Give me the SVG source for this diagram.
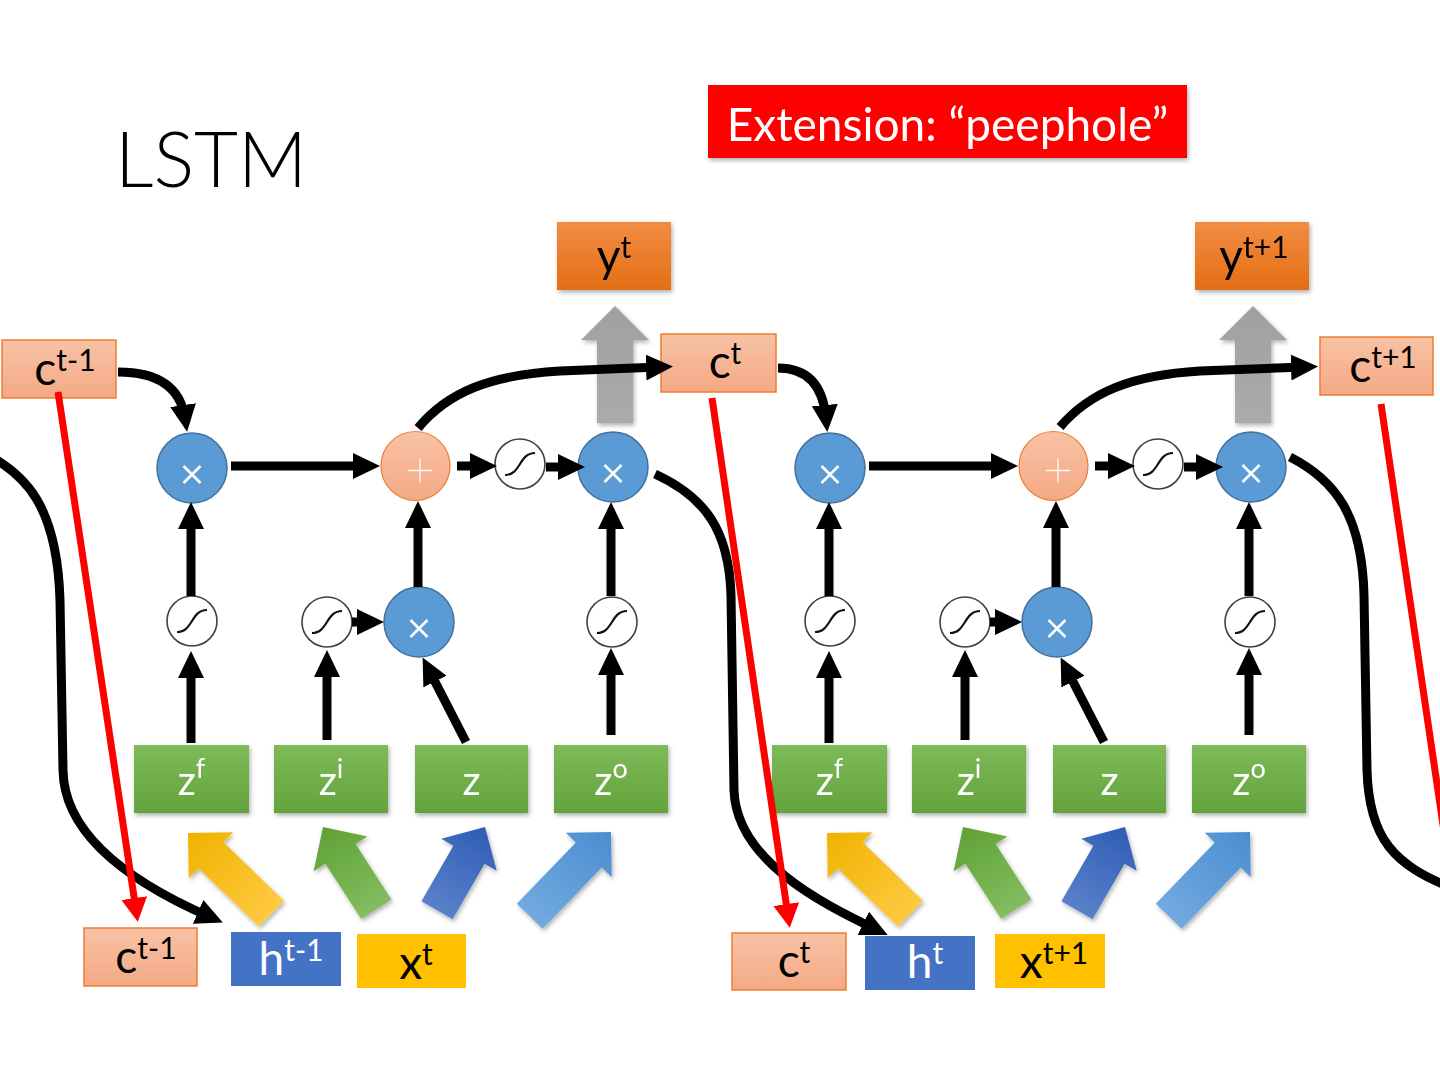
<svg xmlns="http://www.w3.org/2000/svg" width="1440" height="1080" viewBox="0 0 1440 1080">
<defs>
<style>
.t{font-family:Lato,"Open Sans","Liberation Sans",sans-serif}
.bc{fill:url(#gSalmon);stroke:#ED7D31;stroke-width:1.5}
.by{fill:url(#gOrange)}
.bz{fill:url(#gGreen)}
.lb{font-size:46px;fill:#000;text-anchor:middle}
.lw{font-size:46px;fill:#fff;text-anchor:middle}
.lz{font-size:40px;fill:#fff;text-anchor:middle}
.sp{font-size:30px}
.spz{font-size:27px}
.mul{fill:#5B9BD5;stroke:#41719C;stroke-width:1.5}
.sym{stroke:#fff;stroke-width:2.6;fill:none}
.pl{fill:url(#gSalmon);stroke:#ED7D31;stroke-width:1.2}
.psym{stroke:#fff;stroke-width:1.4;fill:none;opacity:.9}
.sig{fill:#fff;stroke:#404040;stroke-width:1.6}
.sc{fill:none;stroke:#111;stroke-width:2.2}
.con{fill:none;stroke:#000;stroke-width:9;marker-end:url(#ah)}
.red{fill:none;stroke:#FF0000;stroke-width:7;marker-end:url(#ahr)}
.redn{fill:none;stroke:#FF0000;stroke-width:7}
</style>
<linearGradient id="gSalmon" x1="0" y1="0" x2="0" y2="1"><stop offset="0" stop-color="#F8C2A5"/><stop offset="1" stop-color="#F4A985"/></linearGradient>
<linearGradient id="gOrange" x1="0" y1="0" x2="0" y2="1"><stop offset="0" stop-color="#F18D42"/><stop offset="1" stop-color="#E46E15"/></linearGradient>
<linearGradient id="gGreen" x1="0" y1="0" x2="0" y2="1"><stop offset="0" stop-color="#7DBA59"/><stop offset="1" stop-color="#64A33C"/></linearGradient>
<linearGradient id="gGray" x1="0" y1="0" x2="0" y2="1"><stop offset="0" stop-color="#A0A0A0"/><stop offset="1" stop-color="#ABABAB"/></linearGradient>
<linearGradient id="gY" x1="0" y1="0" x2="0" y2="1"><stop offset="0" stop-color="#EFB300"/><stop offset="1" stop-color="#FFC940"/></linearGradient>
<linearGradient id="gG" x1="0" y1="0" x2="0" y2="1"><stop offset="0" stop-color="#5FA235"/><stop offset="1" stop-color="#82BD60"/></linearGradient>
<linearGradient id="gB" x1="0" y1="0" x2="0" y2="1"><stop offset="0" stop-color="#2F5DB6"/><stop offset="1" stop-color="#5A80CA"/></linearGradient>
<linearGradient id="gLB" x1="0" y1="0" x2="0" y2="1"><stop offset="0" stop-color="#4A8ED0"/><stop offset="1" stop-color="#72A9DF"/></linearGradient>
<filter id="sh" x="-20%" y="-20%" width="140%" height="150%"><feDropShadow dx="1.5" dy="2.5" stdDeviation="2" flood-color="#000" flood-opacity="0.3"/></filter>
<marker id="ah" viewBox="0 0 27 26" markerWidth="27" markerHeight="26" refX="13" refY="13" orient="auto" markerUnits="userSpaceOnUse"><path d="M0,0 L27,13 L0,26 z" fill="#000"/></marker>
<marker id="ahr" viewBox="0 0 24 26" markerWidth="24" markerHeight="26" refX="12" refY="13" orient="auto" markerUnits="userSpaceOnUse"><path d="M0,0 L24,13 L0,26 z" fill="#FF0000"/></marker>
<g id="mulshape"><circle r="35" class="mul"/><path class="sym" d="M-8.5,-2 L8.5,15 M8.5,-2 L-8.5,15"/></g>
<g id="sgm"><circle r="25" class="sig"/><path class="sc" d="M-15,11 C1,11 -1,-11 15,-11"/></g>
<polygon id="grayup" points="0,0 34,34 18,34 18,117 -18,117 -18,34 -34,34" fill="url(#gGray)"/>
</defs>
<rect width="1440" height="1080" fill="#fff"/>

<text class="t" x="115" y="187" font-size="76" font-weight="300" fill="#000">LSTM</text>

<g id="extension-label" filter="url(#sh)">
<rect x="708" y="85" width="479" height="73" fill="#FF0000"/>
<text class="t" x="947.5" y="141" font-size="46" fill="#fff" text-anchor="middle">Extension: “peephole”</text>
</g>

<!-- Cell 1 -->
<g id="cell1">
<g id="zf1" filter="url(#sh)"><rect class="bz" x="134" y="745" width="115" height="68"/><text class="t lz" x="191.5" y="795">z<tspan class="spz" dy="-17">f</tspan></text></g>
<g id="zi1" filter="url(#sh)"><rect class="bz" x="274" y="745" width="114" height="68"/><text class="t lz" x="331" y="795">z<tspan class="spz" dy="-17">i</tspan></text></g>
<g id="z1" filter="url(#sh)"><rect class="bz" x="415" y="745" width="113" height="68"/><text class="t lz" x="471.5" y="795">z</text></g>
<g id="zo1" filter="url(#sh)"><rect class="bz" x="554" y="745" width="114" height="68"/><text class="t lz" x="611" y="795">z<tspan class="spz" dy="-17">o</tspan></text></g>
<g id="y1" filter="url(#sh)"><rect class="by" x="557" y="222" width="114" height="68"/><text class="t lb" x="614" y="272">y<tspan class="sp" dy="-14">t</tspan></text></g>
<g id="out1" filter="url(#sh)"><use href="#grayup" x="615" y="306"/></g>
<g id="in-arrows1" filter="url(#sh)">
<polygon fill="url(#gY)" points="0,0 32,32 18,32 18,116 -18,116 -18,32 -32,32" transform="translate(188,833) rotate(-46)"/>
<polygon fill="url(#gG)" points="0,0 32,32 18,32 18,98 -18,98 -18,32 -32,32" transform="translate(323,827) rotate(-33)"/>
<polygon fill="url(#gB)" points="0,0 32,32 18,32 18,96 -18,96 -18,32 -32,32" transform="translate(485,827) rotate(30)"/>
<polygon fill="url(#gLB)" points="0,0 32,32 18,32 18,117 -18,117 -18,32 -32,32" transform="translate(611,832) rotate(44)"/>
</g>
<g id="mulf1"><use href="#mulshape" x="192" y="468"/></g>
<g id="add1"><circle class="pl" cx="415.5" cy="466" r="34.5"/><path class="psym" d="M408,470.5 L432,470.5 M420,458.5 L420,482.5"/></g>
<g id="tanh1"><use href="#sgm" x="520" y="464"/></g>
<g id="mulo1"><use href="#mulshape" x="613" y="467"/></g>
<g id="sigf1"><use href="#sgm" x="192" y="621"/></g>
<g id="sigi1"><use href="#sgm" x="327" y="622"/></g>
<g id="muli1"><use href="#mulshape" x="419" y="622"/></g>
<g id="sigo1"><use href="#sgm" x="612" y="622"/></g>
</g>

<!-- Cell 2 -->
<g id="cell2" transform="translate(638,0)">
<g id="zf2" filter="url(#sh)"><rect class="bz" x="134" y="745" width="115" height="68"/><text class="t lz" x="191.5" y="795">z<tspan class="spz" dy="-17">f</tspan></text></g>
<g id="zi2" filter="url(#sh)"><rect class="bz" x="274" y="745" width="114" height="68"/><text class="t lz" x="331" y="795">z<tspan class="spz" dy="-17">i</tspan></text></g>
<g id="z2" filter="url(#sh)"><rect class="bz" x="415" y="745" width="113" height="68"/><text class="t lz" x="471.5" y="795">z</text></g>
<g id="zo2" filter="url(#sh)"><rect class="bz" x="554" y="745" width="114" height="68"/><text class="t lz" x="611" y="795">z<tspan class="spz" dy="-17">o</tspan></text></g>
<g id="y2" filter="url(#sh)"><rect class="by" x="557" y="222" width="114" height="68"/><text class="t lb" x="616" y="272">y<tspan class="sp" dy="-14">t+1</tspan></text></g>
<g id="out2" filter="url(#sh)"><use href="#grayup" x="615" y="306"/></g>
<g id="in-arrows2" filter="url(#sh)">
<polygon fill="url(#gY)" points="0,0 32,32 18,32 18,116 -18,116 -18,32 -32,32" transform="translate(189,833) rotate(-46)"/>
<polygon fill="url(#gG)" points="0,0 32,32 18,32 18,98 -18,98 -18,32 -32,32" transform="translate(325,827) rotate(-33)"/>
<polygon fill="url(#gB)" points="0,0 32,32 18,32 18,96 -18,96 -18,32 -32,32" transform="translate(487,827) rotate(30)"/>
<polygon fill="url(#gLB)" points="0,0 32,32 18,32 18,117 -18,117 -18,32 -32,32" transform="translate(612,832) rotate(44)"/>
</g>
<g id="mulf2"><use href="#mulshape" x="192" y="468"/></g>
<g id="add2"><circle class="pl" cx="415.5" cy="466" r="34.5"/><path class="psym" d="M408,470.5 L432,470.5 M420,458.5 L420,482.5"/></g>
<g id="tanh2"><use href="#sgm" x="520" y="464"/></g>
<g id="mulo2"><use href="#mulshape" x="613" y="467"/></g>
<g id="sigf2"><use href="#sgm" x="192" y="621"/></g>
<g id="sigi2"><use href="#sgm" x="327" y="622"/></g>
<g id="muli2"><use href="#mulshape" x="419" y="622"/></g>
<g id="sigo2"><use href="#sgm" x="612" y="622"/></g>
</g>

<!-- memory / state boxes -->
<g id="c-tm1-top"><rect class="bc" x="2" y="340" width="114" height="58"/><text class="t lb" x="65" y="385">c<tspan class="sp" dy="-14">t-1</tspan></text></g>
<g id="c-t-top"><rect class="bc" x="661" y="334" width="115" height="58"/><text class="t lb" x="725" y="378">c<tspan class="sp" dy="-14">t</tspan></text></g>
<g id="c-tp1-top"><rect class="bc" x="1320" y="337" width="113" height="58"/><text class="t lb" x="1383" y="382">c<tspan class="sp" dy="-14">t+1</tspan></text></g>
<g id="c-tm1-bot"><rect class="bc" x="84" y="928" width="113" height="58"/><text class="t lb" x="146" y="973">c<tspan class="sp" dy="-14">t-1</tspan></text></g>
<g id="h-tm1"><rect x="231" y="932" width="110" height="54" fill="#4472C4"/><text class="t lw" x="291" y="975">h<tspan class="sp" dy="-14">t-1</tspan></text></g>
<g id="x-t"><rect x="357" y="934" width="109" height="54" fill="#FFC000"/><text class="t lb" x="416" y="979">x<tspan class="sp" dy="-14">t</tspan></text></g>
<g id="c-t-bot"><rect class="bc" x="732" y="933" width="114" height="57"/><text class="t lb" x="794" y="977">c<tspan class="sp" dy="-14">t</tspan></text></g>
<g id="h-t"><rect x="865" y="936" width="110" height="54" fill="#4472C4"/><text class="t lw" x="925" y="978">h<tspan class="sp" dy="-14">t</tspan></text></g>
<g id="x-tp1"><rect x="995" y="934" width="110" height="54" fill="#FFC000"/><text class="t lb" x="1054" y="978">x<tspan class="sp" dy="-14">t+1</tspan></text></g>

<!-- connectors -->
<g id="connectors">
<g id="conn-cell1">
<path class="con" d="M231,466 L366,466"/>
<path class="con" d="M457,466 L483,466"/>
<path class="con" d="M546,467 L571,467"/>
<path class="con" d="M191,743 L191,665"/>
<path class="con" d="M191,596 L191,516"/>
<path class="con" d="M327,740 L327,664"/>
<path class="con" d="M352,622 L370,622"/>
<path class="con" d="M466,742 L429,670"/>
<path class="con" d="M418,587 L418,515"/>
<path class="con" d="M611,735 L611,662"/>
<path class="con" d="M611,596 L611,516"/>
</g>
<g id="conn-cell2" transform="translate(638,0)">
<path class="con" d="M231,466 L366,466"/>
<path class="con" d="M457,466 L483,466"/>
<path class="con" d="M546,467 L571,467"/>
<path class="con" d="M191,743 L191,665"/>
<path class="con" d="M191,596 L191,516"/>
<path class="con" d="M327,740 L327,664"/>
<path class="con" d="M352,622 L370,622"/>
<path class="con" d="M466,742 L429,670"/>
<path class="con" d="M418,587 L418,515"/>
<path class="con" d="M611,735 L611,662"/>
<path class="con" d="M611,596 L611,516"/>
</g>
<path class="con" d="M118,372 C155,372 180,385 185,418"/>
<path class="con" d="M778,368 C808,368 823,386 826,418"/>
<path class="con" d="M418,428 C448,392 490,375 560,371 L659,367"/>
<path class="con" d="M1060,427 C1090,392 1132,375 1200,371 L1304,367"/>
<path class="con" d="M-12,455 C25,475 57,505 60,600 L63,770 C64,845 155,893 210,917"/>
<path class="con" d="M655,474 C705,497 729,530 731,595 L734,790 C736,860 821,903 875,929"/>
<path fill="none" stroke="#000" stroke-width="9" d="M1290,457 C1335,480 1362,515 1364,595 L1367,770 C1369,840 1395,865 1452,888"/>
<path class="red" d="M58,392 L136,910"/>
<path class="red" d="M712,398 L788,916"/>
<path class="redn" d="M1381,404 L1460,940"/>
</g>
</svg>
